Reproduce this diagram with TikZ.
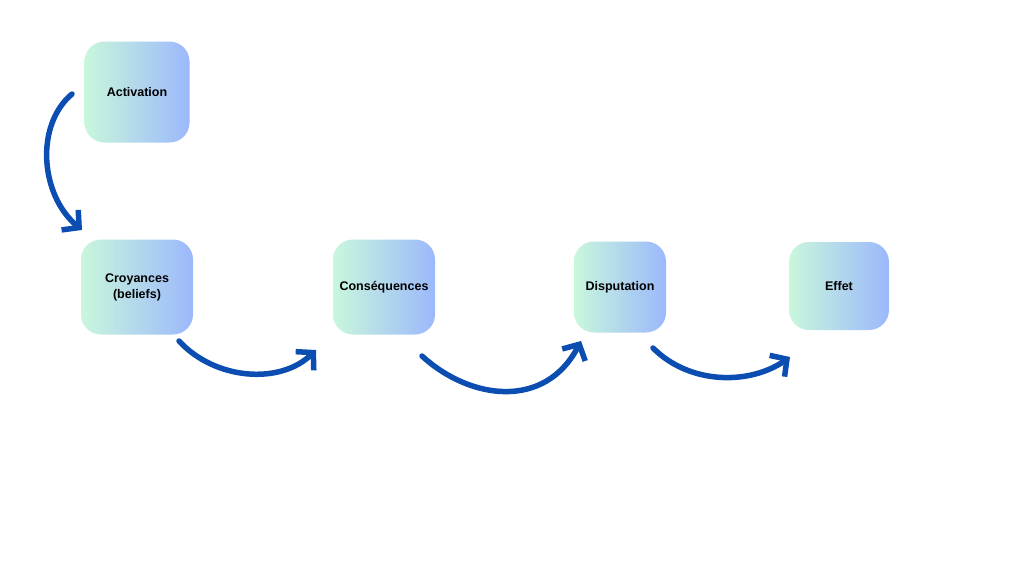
\documentclass[tikz,border=0pt]{standalone}
\usepackage{fontspec}
\setmainfont{Liberation Sans}
\usetikzlibrary{arrows.meta}
\definecolor{arr}{HTML}{0B4DB0}
\definecolor{gl}{HTML}{C9F7DC}
\definecolor{gr}{HTML}{9CB8FC}
\begin{document}
\begin{tikzpicture}[x=1pt,y=-1pt,
 box/.style={rounded corners=20pt,left color=gl,right color=gr,draw=none,align=center,font=\fontsize{12.5}{16}\selectfont\bfseries,inner sep=0pt},
 conn/.style={draw=arr,line width=5.5pt,line cap=round,-{Straight Barb[length=12pt,width=26pt,line width=5.5pt]}}]
\useasboundingbox (0,0) rectangle (1024,576);
\fill[white] (0,0) rectangle (1024,576);
\node[box,minimum width=105pt,minimum height=101pt] (a) at (137,92) {Activation};
\node[box,minimum width=112pt,minimum height=95pt] (b) at (137,287) {Croyances\\(beliefs)};
\node[box,minimum width=102pt,minimum height=95pt] (c) at (384,287) {Conséquences};
\node[box,minimum width=92pt,minimum height=91pt] (d) at (620,287) {Disputation};
\node[box,minimum width=100pt,minimum height=88pt] (e) at (839,286) {Effet};
\coordinate (a1) at (72,94); \coordinate (a2) at (82,230);
\draw[conn] (a1) .. controls (35,125) and (40,195) .. (a2);
\coordinate (b1) at (179,341); \coordinate (b2) at (316,350);
\draw[conn] (b1) .. controls (215,380) and (280,385) .. (b2);
\coordinate (c1) at (422,356); \coordinate (c2) at (581,341);
\draw[conn] (c1) .. controls (470,400) and (545,410) .. (c2);
\coordinate (d1) at (653,348); \coordinate (d2) at (790,357);
\draw[conn] (d1) .. controls (690,385) and (750,385) .. (d2);
\end{tikzpicture}
\end{document}
